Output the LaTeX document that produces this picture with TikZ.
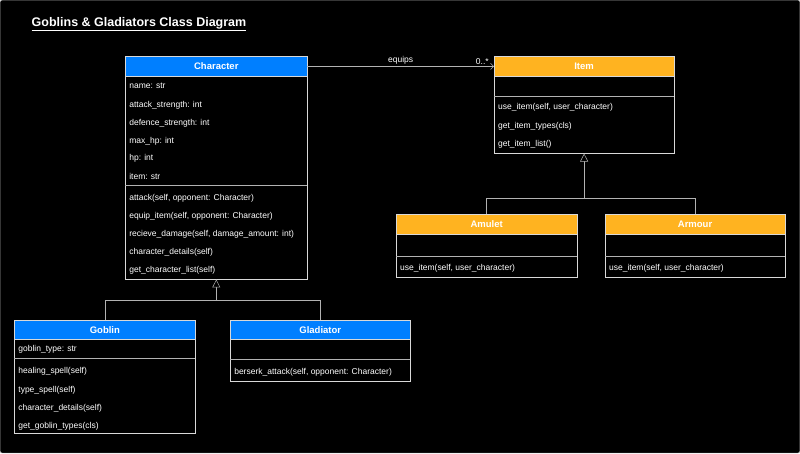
\documentclass[tikz,border=0pt]{standalone}
\usepackage{fontspec}
\setmainfont{Liberation Sans}
\usetikzlibrary{arrows.meta}
\definecolor{hblue}{HTML}{007FFF}
\definecolor{horange}{HTML}{FFB320}
\tikzset{
  head/.style={draw=white!85!black, anchor=north west, minimum height=20pt, inner sep=0pt, text=white, font=\fontsize{9.5}{11}\selectfont\bfseries},
  box/.style={draw=white!85!black, anchor=north west, inner sep=0pt},
  row/.style={anchor=west, text=white, inner sep=0pt, font=\fontsize{8.5}{10}\selectfont},
  ln/.style={draw=white!70!black, line width=0.5pt},
  gen/.style={ln, -{Triangle[open, length=8pt, width=8pt, fill=black]}}
}
\begin{document}
\begin{tikzpicture}[x=1pt, y=-1pt]
\fill[black, draw=white!60!black, rounded corners=2pt] (0,0) rectangle (800,453);
\node[anchor=west, text=white, font=\fontsize{12.5}{14}\selectfont\bfseries] (title) at (28,24) {\underline{Goblins \& Gladiators Class Diagram}};
% Character
\node[head, fill=hblue, minimum width=182pt] (char) at (125,56) {Character};
\node[box, minimum width=182pt, minimum height=203pt] (charb) at (125,76) {};
\draw[ln] (125,185) -- (307,185);
\node[row] at (129,86) {name: str};
\node[row] at (129,105) {attack\_strength: int};
\node[row] at (129,123) {defence\_strength: int};
\node[row] at (129,141) {max\_hp: int};
\node[row] at (129,158) {hp: int};
\node[row] at (129,176) {item: str};
\node[row] at (129,198) {attack(self, opponent: Character)};
\node[row] at (129,216) {equip\_item(self, opponent: Character)};
\node[row] at (129,234) {recieve\_damage(self, damage\_amount: int)};
\node[row] at (129,252) {character\_details(self)};
\node[row] at (129,270) {get\_character\_list(self)};
% Item
\node[head, fill=horange, minimum width=180pt] (item) at (494,56) {Item};
\node[box, minimum width=180pt, minimum height=77pt] (itemb) at (494,76) {};
\draw[ln] (494,96) -- (674,96);
\node[row] at (498,107) {use\_item(self, user\_character)};
\node[row] at (498,126) {get\_item\_types(cls)};
\node[row] at (498,144) {get\_item\_list()};
% Amulet
\node[head, fill=horange, minimum width=181pt] (amulet) at (396,214) {Amulet};
\node[box, minimum width=181pt, minimum height=43pt] (amuletb) at (396,234) {};
\draw[ln] (396,256) -- (577,256);
\node[row] at (400,268) {use\_item(self, user\_character)};
% Armour
\node[head, fill=horange, minimum width=180pt] (armour) at (605,214) {Armour};
\node[box, minimum width=180pt, minimum height=43pt] (armourb) at (605,234) {};
\draw[ln] (605,256) -- (785,256);
\node[row] at (609,268) {use\_item(self, user\_character)};
% Goblin
\node[head, fill=hblue, minimum width=181pt, minimum height=19pt] (goblin) at (14,320) {Goblin};
\node[box, minimum width=181pt, minimum height=94pt] (goblinb) at (14,339) {};
\draw[ln] (14,358) -- (195,358);
\node[row] at (18,349) {goblin\_type: str};
\node[row] at (18,371) {healing\_spell(self)};
\node[row] at (18,390) {type\_spell(self)};
\node[row] at (18,408) {character\_details(self)};
\node[row] at (18,426) {get\_goblin\_types(cls)};
% Gladiator
\node[head, fill=hblue, minimum width=180pt, minimum height=19pt] (glad) at (230,320) {Gladiator};
\node[box, minimum width=180pt, minimum height=42pt] (gladb) at (230,339) {};
\draw[ln] (230,359) -- (410,359);
\node[row] at (234,372) {berserk\_attack(self, opponent: Character)};
% connectors
\draw[ln, -{Straight Barb[length=3pt, width=6pt]}] (char.east) -- node[row, anchor=south, pos=0.5, yshift=2pt] {equips} node[row, anchor=south east, pos=1, yshift=2pt, xshift=-5pt] {0..*} (item.west);
\coordinate (ij) at ([yshift=-45pt]itemb.south);
\draw[ln] (amulet.north) |- (ij) -| (armour.north);
\draw[gen] (ij) -- (itemb.south);
\coordinate (cj) at ([yshift=-21pt]charb.south);
\draw[ln] (goblin.north) |- (cj) -| (glad.north);
\draw[gen] (cj) -- (charb.south);
\end{tikzpicture}
\end{document}
